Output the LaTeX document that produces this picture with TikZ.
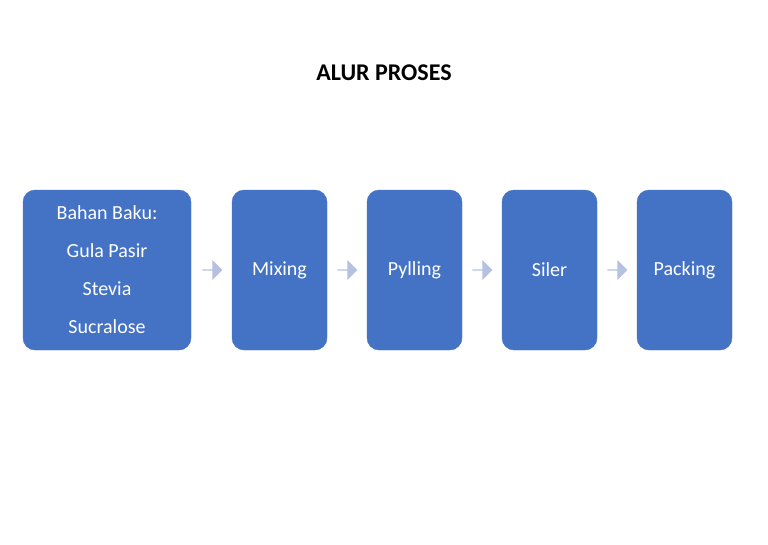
\documentclass[tikz,border=0pt]{standalone}
\usepackage{fontspec}
\setmainfont{Carlito}
\usetikzlibrary{shapes.arrows}
\definecolor{boxblue}{HTML}{4472C4}
\definecolor{arrblue}{HTML}{B4C1E1}
\begin{document}
\begin{tikzpicture}[x=1pt,y=-1pt,
  stepbox/.style={fill=boxblue,draw=boxblue,rounded corners=12pt,text=white,font=\fontsize{20}{38}\selectfont,align=center,inner sep=0pt},
  blockarrow/.style={single arrow,fill=arrblue,draw=none,minimum width=20pt,minimum height=20pt,single arrow head extend=3pt,inner sep=0pt}]
\useasboundingbox (0,0) rectangle (768,544);
\node[font=\fontsize{24}{28}\selectfont\bfseries] (title) at (384,73) {ALUR PROSES};
\node[stepbox,minimum width=168pt,minimum height=160pt] (b1) at (107,270) {Bahan Baku:\\Gula Pasir\\Stevia\\Sucralose};
\node[stepbox,minimum width=95pt,minimum height=160pt] (b2) at (279.5,270) {Mixing};
\node[stepbox,minimum width=95pt,minimum height=160pt] (b3) at (414.5,270) {Pylling};
\node[stepbox,minimum width=95pt,minimum height=160pt] (b4) at (549.5,270) {Siler};
\node[stepbox,minimum width=95pt,minimum height=160pt] (b5) at (684.5,270) {Packing};
\node[blockarrow] (a1) at (212,270) {};
\node[blockarrow] (a2) at (347,270) {};
\node[blockarrow] (a3) at (482,270) {};
\node[blockarrow] (a4) at (617,270) {};
\end{tikzpicture}
\end{document}
